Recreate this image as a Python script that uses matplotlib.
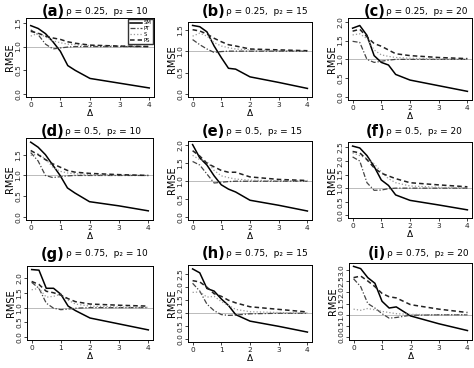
import numpy as np
import matplotlib
matplotlib.use("Agg")
import matplotlib.pyplot as plt
import matplotlib.transforms as mtransforms

delta = [0, 0.25, 0.5, 0.75, 1, 1.25, 1.5, 2, 3, 4]

labels = ["(a)", "(b)", "(c)", "(d)", "(e)", "(f)", "(g)", "(h)", "(i)"]
subtitles = ["ρ = 0.25,  p₂ = 10", "ρ = 0.25,  p₂ = 15", "ρ = 0.25,  p₂ = 20",
             "ρ = 0.5,  p₂ = 10", "ρ = 0.5,  p₂ = 15", "ρ = 0.5,  p₂ = 20",
             "ρ = 0.75,  p₂ = 10", "ρ = 0.75,  p₂ = 15", "ρ = 0.75,  p₂ = 20"]

sm = [
    [1.44, 1.38, 1.27, 1.10, 0.90, 0.60, 0.50, 0.33, 0.23, 0.13],
    [1.60, 1.57, 1.45, 1.12, 0.85, 0.60, 0.58, 0.40, 0.27, 0.13],
    [1.83, 1.90, 1.64, 1.10, 0.92, 0.85, 0.60, 0.45, 0.30, 0.15],
    [1.80, 1.68, 1.50, 1.25, 1.00, 0.70, 0.58, 0.37, 0.27, 0.15],
    [2.02, 1.65, 1.45, 1.15, 0.90, 0.78, 0.70, 0.47, 0.33, 0.17],
    [2.55, 2.48, 2.20, 1.80, 1.30, 1.10, 0.75, 0.55, 0.38, 0.20],
    [2.28, 2.26, 1.65, 1.65, 1.45, 1.05, 0.90, 0.65, 0.45, 0.25],
    [2.70, 2.55, 1.95, 1.85, 1.55, 1.30, 0.95, 0.70, 0.50, 0.28],
    [3.15, 3.05, 2.65, 2.40, 1.60, 1.30, 1.35, 0.95, 0.60, 0.30],
]
pt = [
    [1.35, 1.25, 1.05, 0.95, 0.97, 0.99, 1.00, 1.00, 1.00, 1.00],
    [1.27, 1.15, 1.05, 0.97, 0.99, 1.00, 1.00, 1.00, 1.00, 1.00],
    [1.48, 1.45, 1.00, 0.92, 0.95, 0.98, 1.00, 1.00, 1.00, 1.00],
    [1.55, 1.35, 1.00, 0.95, 0.97, 0.99, 1.00, 1.00, 1.00, 1.00],
    [1.55, 1.45, 1.20, 0.95, 0.97, 0.99, 1.00, 1.00, 1.00, 1.00],
    [2.15, 2.00, 1.20, 0.92, 0.93, 0.98, 1.00, 1.00, 1.00, 1.00],
    [1.85, 1.65, 1.15, 0.98, 0.93, 0.95, 0.98, 1.00, 1.00, 1.00],
    [2.15, 1.85, 1.35, 1.10, 0.95, 0.92, 0.93, 0.98, 1.00, 1.00],
    [2.60, 2.25, 1.50, 1.30, 1.05, 0.85, 0.88, 0.98, 1.00, 1.00],
]
s = [
    [1.22, 1.28, 1.20, 1.12, 1.08, 1.05, 1.04, 1.02, 1.01, 1.00],
    [1.35, 1.42, 1.35, 1.20, 1.12, 1.08, 1.05, 1.03, 1.01, 1.00],
    [1.65, 1.68, 1.55, 1.25, 1.12, 1.08, 1.05, 1.03, 1.01, 1.00],
    [1.48, 1.52, 1.40, 1.20, 1.10, 1.06, 1.04, 1.02, 1.01, 1.00],
    [1.72, 1.60, 1.55, 1.30, 1.15, 1.10, 1.06, 1.03, 1.01, 1.00],
    [2.30, 2.20, 2.10, 1.90, 1.60, 1.35, 1.20, 1.08, 1.03, 1.01],
    [1.60, 1.65, 1.35, 1.38, 1.45, 1.25, 1.12, 1.05, 1.02, 1.01],
    [1.80, 1.82, 1.62, 1.65, 1.45, 1.30, 1.15, 1.06, 1.03, 1.01],
    [1.25, 1.20, 1.28, 1.22, 1.15, 1.10, 1.05, 1.02, 1.00, 1.00],
]
ps = [
    [1.32, 1.28, 1.22, 1.18, 1.15, 1.10, 1.07, 1.03, 1.01, 1.00],
    [1.50, 1.47, 1.40, 1.30, 1.22, 1.15, 1.12, 1.05, 1.03, 1.01],
    [1.75, 1.80, 1.60, 1.42, 1.35, 1.25, 1.15, 1.10, 1.05, 1.02],
    [1.60, 1.50, 1.38, 1.28, 1.20, 1.12, 1.08, 1.05, 1.02, 1.00],
    [1.85, 1.70, 1.50, 1.40, 1.30, 1.25, 1.25, 1.12, 1.05, 1.02],
    [2.35, 2.30, 2.05, 1.75, 1.55, 1.45, 1.35, 1.20, 1.12, 1.05],
    [1.88, 1.78, 1.55, 1.50, 1.42, 1.30, 1.20, 1.12, 1.08, 1.05],
    [2.25, 2.20, 2.00, 1.75, 1.65, 1.50, 1.40, 1.25, 1.15, 1.05],
    [2.65, 2.72, 2.50, 2.25, 1.95, 1.80, 1.75, 1.45, 1.25, 1.10],
]
ytop = [1.5, 1.5, 2.0, 1.5, 2.0, 2.5, 2.0, 2.5, 3.0]
ylims = [(-0.06, 1.6), (-0.07, 1.68), (-0.08, 2.1), (-0.07, 1.9), (-0.08, 2.12),
         (-0.1, 2.7), (-0.09, 2.4), (-0.1, 2.85), (-0.12, 3.3)]

# axes boxes in pixels: left, right, top, bottom
boxes = [(26, 154, 18, 97), (188, 312, 22, 97), (348, 472, 18, 100),
         (26, 153, 138, 220), (188, 312, 141, 220), (348, 472, 142, 218),
         (27, 153, 266, 340), (188, 312, 265, 342), (349, 472, 263, 340)]
title_y = [12, 131, 254]  # pixels from top, per row

W, H = 474, 368
fig = plt.figure(figsize=(W / 100, H / 100), dpi=100)

for i in range(9):
    l, r, t, b = boxes[i]
    ax = fig.add_axes([l / W, 1 - b / H, (r - l) / W, (b - t) / H])
    ax.axhline(1.0, color="#bbbbbb", lw=0.7)
    ax.plot(delta, sm[i], color="black", lw=1.1, ls="-", label="SM")
    ax.plot(delta, pt[i], color="#444444", lw=0.9, ls=(0, (4, 1.5, 1, 1.5)), label="PT")
    ax.plot(delta, s[i], color="#999999", lw=0.9, ls=":", label="S")
    ax.plot(delta, ps[i], color="#222222", lw=1.1, ls=(0, (3, 2)), label="PS")
    ax.set_xlim(-0.16, 4.16)
    ax.set_ylim(*ylims[i])
    ax.set_xticks([0, 1, 2, 3, 4])
    yt = np.arange(0, ytop[i] + 0.01, 0.5)
    ax.set_yticks(yt)
    ax.set_yticklabels(["%.1f" % v for v in yt], rotation=90, va="center")
    ax.tick_params(labelsize=5.3, length=2.2, width=0.6, pad=1.2, colors="#222222")
    for sp in ax.spines.values():
        sp.set_linewidth(0.7)
    ax.set_xlabel("Δ", fontsize=6.5, labelpad=1)
    ax.set_ylabel("RMSE", fontsize=7, labelpad=0.5)
    trans = mtransforms.blended_transform_factory(ax.transAxes, fig.transFigure)
    ty = 1 - title_y[i // 3] / H
    ax.text(0.30, ty, labels[i], transform=trans, ha="right", va="center",
            fontsize=10.5, fontweight="bold")
    ax.text(0.31, ty, subtitles[i], transform=trans, ha="left", va="center",
            fontsize=6.5)
    if i == 0:
        ax.legend(loc="upper right", fontsize=3.8, handlelength=2.2, frameon=True,
                  fancybox=False, edgecolor="black", borderpad=0.3, labelspacing=0.15,
                  handletextpad=0.4, borderaxespad=0.15)

fig.savefig("out.png", dpi=100)
